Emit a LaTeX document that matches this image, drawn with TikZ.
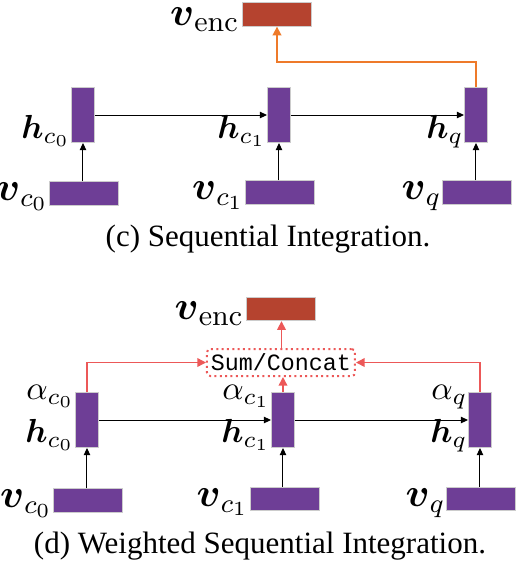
\documentclass[tikz,border=0pt]{standalone}
\usepackage{amsmath,amssymb}
\usepackage{fontspec}
\newfontfamily\capfont{Liberation Serif}
\newfontfamily\sumfont{Liberation Mono}
\usepackage{tikz}
\usetikzlibrary{arrows.meta,positioning,calc}
\definecolor{cellpurple}{RGB}{110,62,150}
\definecolor{encred}{RGB}{181,67,47}
\definecolor{seqorange}{RGB}{238,122,42}
\definecolor{attred}{RGB}{236,88,88}

\begin{document}
\begin{tikzpicture}[x=0.3pt, y=-0.3pt,
  hbox/.style={rectangle, draw=black!20, line width=0.3pt, fill=cellpurple, minimum width=6.9pt, minimum height=16.5pt, inner sep=0pt},
  vbox/.style={rectangle, draw=black!20, line width=0.3pt, fill=cellpurple, minimum width=20.7pt, minimum height=7pt, inner sep=0pt},
  encbox/.style={rectangle, draw=black!20, line width=0.3pt, fill=encred, minimum width=20.7pt, minimum height=7pt, inner sep=0pt},
  sumbox/.style={rectangle, rounded corners=1pt, draw=attred, densely dotted, line width=0.6pt, minimum width=44.4pt, minimum height=8.1pt, inner sep=0pt, font=\sumfont\fontsize{7}{8}\selectfont},
  vlbl/.style={inner sep=0pt, anchor=base east, font=\fontsize{11.5}{14}\selectfont},
  hlbl/.style={inner sep=0pt, anchor=base east, font=\fontsize{9.8}{12}\selectfont},
  enclbl/.style={inner sep=0pt, anchor=base east, font=\fontsize{12.5}{14}\selectfont},
  captext/.style={inner sep=0pt, font=\capfont\fontsize{9.3}{11}\selectfont},
  arrow/.style={-{Triangle[length=2.1pt, width=1.9pt]}, line width=0.3pt},
  seqarrow/.style={-{Triangle[length=2.6pt, width=2.6pt]}, line width=0.5pt, draw=seqorange},
  attarrow/.style={-{Triangle[length=2.6pt, width=2.6pt]}, line width=0.45pt, draw=attred},
]
\useasboundingbox (0,0) rectangle (526,567);

% (c) sequential integration
\node[encbox] (enc) at (277,14.5) {};
\node[hbox] (hc0) at (83,115) {};
\node[hbox] (hc1) at (279,115) {};
\node[hbox] (hq) at (476,115) {};
\node[vbox] (vc0) at (84.5,193.5) {};
\node[vbox] (vc1) at (280.5,192.5) {};
\node[vbox] (vq) at (477.5,192.5) {};
\coordinate (bend) at (277,62);

\node[enclbl] (lenc) at ([xshift=-0.6pt, yshift=0.4pt]enc.south west) {$\boldsymbol{v}_{\mathrm{enc}}$};
\node[hlbl] (lhc0) at ([xshift=0pt, yshift=1.5pt]hc0.south west) {$\boldsymbol{h}_{c_0}$};
\node[hlbl] (lhc1) at ([xshift=0pt, yshift=1.5pt]hc1.south west) {$\boldsymbol{h}_{c_1}$};
\node[hlbl] (lhq) at ([xshift=0pt, yshift=1.5pt]hq.south west) {$\boldsymbol{h}_{q}$};
\node[vlbl] (lvc0) at ([xshift=-0.2pt, yshift=1.5pt]vc0.south west) {$\boldsymbol{v}_{c_0}$};
\node[vlbl] (lvc1) at ([xshift=-0.2pt, yshift=1.5pt]vc1.south west) {$\boldsymbol{v}_{c_1}$};
\node[vlbl] (lvq) at ([xshift=-0.2pt, yshift=1.5pt]vq.south west) {$\boldsymbol{v}_{q}$};

\draw[arrow] (vc0.north -| hc0) -- (hc0.south);
\draw[arrow] (vc1.north -| hc1) -- (hc1.south);
\draw[arrow] (vq.north -| hq) -- (hq.south);
\draw[arrow] (hc0.east) -- (hc1.west);
\draw[arrow] (hc1.east) -- (hq.west);
\draw[seqarrow] (hq.north) |- (bend) -- (enc.south);

\node[captext, anchor=base] (capc) at (268,246) {(c) Sequential Integration.};

% (d) weighted sequential integration
\node[encbox] (wenc) at (281.5,309) {};
\node[sumbox] (sum) at (281,362.5) {Sum/Concat};
\node[hbox] (whc0) at (87,420) {};
\node[hbox] (whc1) at (283,420) {};
\node[hbox] (whq) at (480,420) {};
\node[vbox] (wvc0) at (88.5,500.5) {};
\node[vbox] (wvc1) at (285,499) {};
\node[vbox] (wvq) at (481.5,499) {};

\node[enclbl] (lwenc) at ([xshift=-0.6pt, yshift=0.6pt]wenc.south west) {$\boldsymbol{v}_{\mathrm{enc}}$};
\node[hlbl] (lwac0) at ([xshift=0pt, yshift=-2.1pt]whc0.north west) {$\alpha_{c_0}$};
\node[hlbl] (lwac1) at ([xshift=0pt, yshift=-2.1pt]whc1.north west) {$\alpha_{c_1}$};
\node[hlbl] (lwaq) at ([xshift=0pt, yshift=-2.1pt]whq.north west) {$\alpha_{q}$};
\node[hlbl] (lwhc0) at ([xshift=0pt, yshift=1.8pt]whc0.south west) {$\boldsymbol{h}_{c_0}$};
\node[hlbl] (lwhc1) at ([xshift=0pt, yshift=1.8pt]whc1.south west) {$\boldsymbol{h}_{c_1}$};
\node[hlbl] (lwhq) at ([xshift=0pt, yshift=1.8pt]whq.south west) {$\boldsymbol{h}_{q}$};
\node[vlbl] (lwvc0) at ([xshift=-0.2pt, yshift=1.5pt]wvc0.south west) {$\boldsymbol{v}_{c_0}$};
\node[vlbl] (lwvc1) at ([xshift=-0.2pt, yshift=1.5pt]wvc1.south west) {$\boldsymbol{v}_{c_1}$};
\node[vlbl] (lwvq) at ([xshift=-0.2pt, yshift=1.5pt]wvq.south west) {$\boldsymbol{v}_{q}$};

\draw[arrow] (wvc0.north -| whc0) -- (whc0.south);
\draw[arrow] (wvc1.north -| whc1) -- (whc1.south);
\draw[arrow] (wvq.north -| whq) -- (whq.south);
\draw[arrow] (whc0.east) -- (whc1.west);
\draw[arrow] (whc1.east) -- (whq.west);
\draw[attarrow] (whc0.north) |- (sum.west);
\draw[attarrow] (whq.north) |- (sum.east);
\draw[attarrow] (whc1.north) -- (whc1.north |- sum.south);
\draw[attarrow] (sum.north -| wenc) -- (wenc.south);

\node[captext, anchor=base] (capd) at (260,553) {(d) Weighted Sequential Integration.};
\end{tikzpicture}
\end{document}
